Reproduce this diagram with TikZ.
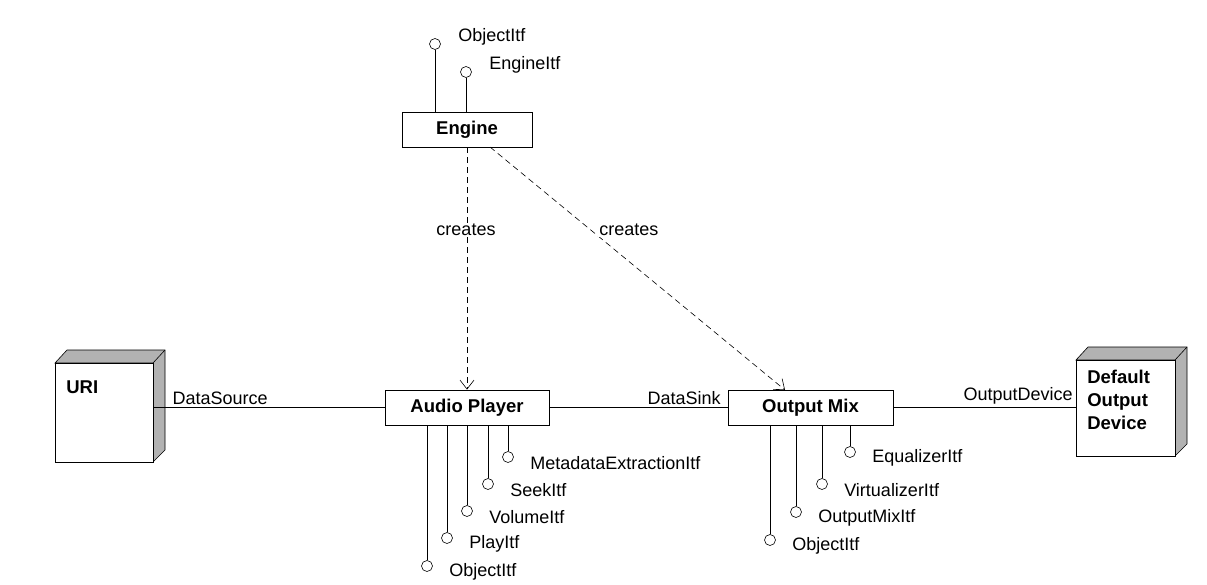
\documentclass[tikz,border=0pt]{standalone}
\usepackage{fontspec}
\setmainfont{Liberation Sans}
\usetikzlibrary{arrows.meta}
\begin{document}
\begin{tikzpicture}[x=1pt,y=-1pt,font=\fontsize{18}{21}\selectfont,semithick,
    box/.style={draw,thick,minimum height=35pt,font=\fontsize{18.5}{21}\selectfont\bfseries},
    lolly/.style={draw,circle,inner sep=0pt,minimum size=11pt},
    lbl/.style={anchor=west,inner sep=0pt},
    dep/.style={dash pattern=on 6pt off 4pt,-{Straight Barb[length=9pt,width=14pt]}}]
            \useasboundingbox (0,0) rectangle (1207,584);
            \node [box,minimum width=130pt] (engine) at(467,129.5) {Engine};
            \node [box,minimum width=164pt] (player) at(467,407.5) {Audio Player};
            \node [box,minimum width=165pt] (mix) at(810.5,407.5) {Output Mix};
            % 3D boxes
            \draw [fill=gray!60] (55,363) -- (67,350) -- (165,350) -- (165,450) -- (153,462) -- (153,363) -- cycle;
            \draw [fill=white] (55,363) rectangle (153,462);
            \draw (153,363) -- (165,350);
            \node [lbl,font=\fontsize{18.5}{21}\selectfont\bfseries] (uri) at(66,387) {URI};
            \coordinate (uriR) at(153,407.5);
            \draw [fill=gray!60] (1076,360) -- (1088,347) -- (1187,347) -- (1187,444) -- (1175,456) -- (1175,360) -- cycle;
            \draw [fill=white] (1076,360) rectangle (1175,456);
            \draw (1175,360) -- (1187,347);
            \node [anchor=north west,align=left,inner sep=0pt,font=\fontsize{18.5}{23}\selectfont\bfseries] (dev) at(1087,370) {Default\\Output\\Device};
            \coordinate (devL) at(1076,407.5);
            % connections
            \draw (uriR) -- (player.west) node [pos=0.07,anchor=south west,inner sep=3pt] {DataSource};
            \draw (player.east) -- (mix.west) node [pos=0.98,anchor=south east,inner sep=3pt] {DataSink};
            \draw (mix.east) -- (devL) node [pos=1,anchor=south east,inner sep=3pt] {OutputDevice};
            \coordinate (e2) at(490,147);
            \coordinate (m2) at(785,390);
            \draw [dep] (engine.south) -- (player.north);
            \draw [dep] (e2) -- (m2);
            \node [fill=white,inner sep=1pt] at(466,230) {creates};
            \node [fill=white,inner sep=1pt,anchor=west] at(598,230) {creates};
            % interfaces
            \foreach \x/\y/\t [count=\i] in {435/44/ObjectItf,466/72/EngineItf}{
                \node [lolly] (ei\i) at(\x,\y) {};
                \draw (ei\i.south) -- (\x,112);
                \node [lbl] at(\x+23,\y-7) {\t};
            }
            \foreach \x/\y/\t [count=\i] in {427/566/ObjectItf,447/538/PlayItf,467/511/VolumeItf,488/484/SeekItf,508/457/MetadataExtractionItf}{
                \node [lolly] (pi\i) at(\x,\y) {};
                \draw (pi\i.north) -- (\x,425);
                \node [lbl] at(\x+22,\y+6) {\t};
            }
            \foreach \x/\y/\t [count=\i] in {770/540/ObjectItf,796/512/OutputMixItf,822/484/VirtualizerItf,850/452/EqualizerItf}{
                \node [lolly] (mi\i) at(\x,\y) {};
                \draw (mi\i.north) -- (\x,425);
                \node [lbl] at(\x+22,\y+6) {\t};
            }
        \end{tikzpicture}
\end{document}
